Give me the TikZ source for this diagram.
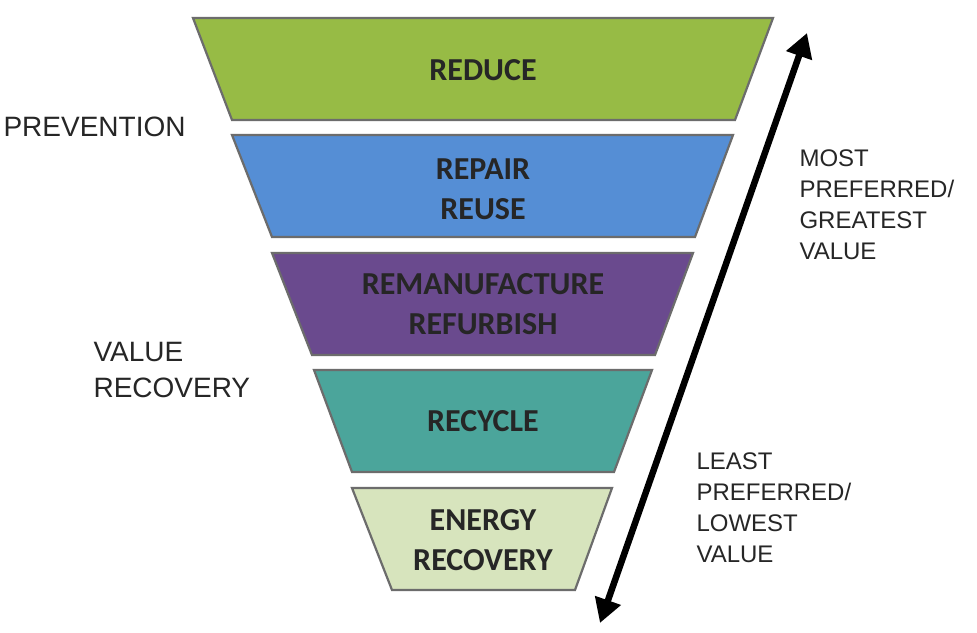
\documentclass[tikz,border=0pt]{standalone}
\usepackage{fontspec}
\setmainfont{Liberation Sans}
\newfontfamily\boxfont{Carlito}
\usetikzlibrary{arrows.meta}
\definecolor{cA}{HTML}{97BB45}
\definecolor{cB}{HTML}{558ED5}
\definecolor{cC}{HTML}{6A4A8E}
\definecolor{cD}{HTML}{4BA59B}
\definecolor{cE}{HTML}{D7E4BD}
\begin{document}
\begin{tikzpicture}[x=1pt,y=-1pt,
  tier/.style={draw=gray!85!black,line width=2.2pt,line join=miter},
  lbl/.style={font=\boxfont\bfseries\fontsize{32}{40}\selectfont,align=center,text=black!85},
  side/.style={font=\fontsize{28}{36}\selectfont,align=left,anchor=west,text=black!85}]
\useasboundingbox (0,0) rectangle (977,632);
\fill[white] (0,0) rectangle (977,632);
\draw[tier,fill=cA] (193,18) -- (773,18) -- (735,120) -- (232,120) -- cycle;
\draw[tier,fill=cB] (232,135) -- (733,135) -- (695,237) -- (272,237) -- cycle;
\draw[tier,fill=cC] (272,253) -- (693,253) -- (655,355) -- (312,355) -- cycle;
\draw[tier,fill=cD] (314,370) -- (652,370) -- (614,472) -- (352,472) -- cycle;
\draw[tier,fill=cE] (352,488) -- (612,488) -- (575,590) -- (392,590) -- cycle;
\node[lbl] (t1) at (483,70) {REDUCE};
\node[lbl] (t2) at (483,189) {REPAIR\\REUSE};
\node[lbl] (t3) at (483,304) {REMANUFACTURE\\REFURBISH};
\node[lbl] (t4) at (483,421) {RECYCLE};
\node[lbl] (t5) at (483,540) {ENERGY\\RECOVERY};
\node[side] (p) at (0,127) {PREVENTION};
\node[side] (v) at (90,370) {VALUE\\RECOVERY};
\node[side,font=\fontsize{24}{31}\selectfont] (m) at (796,205) {MOST\\PREFERRED/\\GREATEST\\VALUE};
\node[side,font=\fontsize{24}{31}\selectfont] (l) at (693,508) {LEAST\\PREFERRED/\\LOWEST\\VALUE};
\coordinate (lo) at (600,623);
\coordinate (hi) at (807,33);
\draw[line width=6.5pt,{Triangle[length=24pt,width=26pt]}-{Triangle[length=24pt,width=26pt]}] (lo) -- (hi);
\end{tikzpicture}
\end{document}
